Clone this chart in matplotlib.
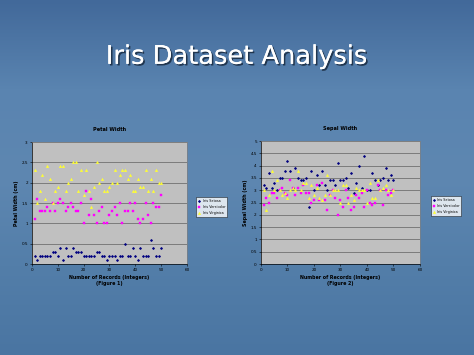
import numpy as np
import matplotlib
matplotlib.use("Agg")
import matplotlib.pyplot as plt
import matplotlib.patheffects as pe

# records 1..50 for each species
records = np.arange(1, 51)
species = ["Iris Setosa", "Iris Versicolor", "Iris Virginica"]

# petal width (cm), figure 1
petal_setosa = [0.2, 0.1, 0.2, 0.2, 0.2, 0.2, 0.2, 0.3, 0.3, 0.2,
                0.4, 0.1, 0.4, 0.2, 0.2, 0.4, 0.3, 0.3, 0.3, 0.2,
                0.2, 0.2, 0.2, 0.2, 0.3, 0.3, 0.2, 0.2, 0.1, 0.2,
                0.2, 0.2, 0.1, 0.2, 0.2, 0.5, 0.2, 0.2, 0.4, 0.2,
                0.1, 0.4, 0.2, 0.2, 0.2, 0.6, 0.4, 0.2, 0.2, 0.4]
petal_versicolor = [1.1, 1.6, 1.3, 1.3, 1.3, 1.4, 1.3, 1.5, 1.3, 1.5,
                    1.6, 1.5, 1.3, 1.4, 1.5, 1.4, 1.3, 1.3, 1.5, 1.0,
                    1.8, 1.2, 1.6, 1.2, 1.0, 1.3, 1.4, 1.0, 1.0, 1.2,
                    1.3, 1.4, 1.2, 1.5, 1.0, 1.3, 1.3, 1.5, 1.3, 1.5,
                    1.1, 1.0, 1.1, 1.5, 1.2, 1.0, 1.5, 1.4, 1.4, 1.7]
petal_virginica = [2.3, 1.5, 1.8, 2.2, 1.6, 2.4, 2.1, 1.5, 1.8, 1.9,
                   2.4, 2.4, 1.8, 2.0, 2.1, 2.5, 2.5, 1.8, 2.3, 1.7,
                   2.3, 1.8, 1.4, 1.9, 2.5, 2.0, 2.1, 1.8, 1.8, 1.9,
                   2.0, 2.3, 2.0, 2.2, 2.3, 2.3, 2.1, 2.2, 1.8, 1.8,
                   2.1, 1.9, 1.9, 2.3, 1.8, 2.1, 1.8, 2.3, 2.0, 2.0]

# sepal width (cm), figure 2
sepal_setosa = [3.2, 3.1, 3.7, 3.1, 3.3, 3.0, 3.5, 3.5, 3.8, 4.2,
                3.8, 3.1, 3.9, 3.5, 3.4, 3.4, 3.5, 2.3, 3.8, 3.0,
                3.6, 3.2, 3.8, 3.2, 3.0, 3.4, 3.4, 3.2, 4.1, 3.4,
                3.4, 3.5, 3.1, 3.7, 2.9, 3.3, 4.0, 3.1, 4.4, 3.0,
                3.0, 3.7, 3.4, 3.2, 3.4, 3.5, 3.9, 3.4, 3.6, 3.4]
sepal_versicolor = [2.4, 2.7, 2.5, 2.9, 2.9, 2.7, 3.0, 3.1, 2.9, 2.8,
                    3.4, 3.1, 2.8, 3.1, 2.9, 3.2, 2.9, 2.9, 2.5, 2.6,
                    3.2, 2.6, 3.3, 2.6, 2.2, 2.8, 3.0, 2.7, 2.0, 2.6,
                    2.3, 3.0, 2.7, 2.2, 2.3, 2.8, 2.7, 2.9, 2.3, 3.0,
                    2.5, 2.4, 2.5, 3.2, 3.0, 2.4, 3.0, 2.8, 2.9, 3.0]
sepal_virginica = [3.0, 2.2, 2.8, 3.8, 3.0, 3.4, 3.0, 2.8, 2.9, 2.7,
                   3.0, 3.1, 3.0, 3.8, 3.0, 3.3, 3.3, 2.7, 3.2, 2.8,
                   3.1, 2.7, 2.6, 2.8, 3.6, 2.8, 3.0, 3.0, 3.0, 2.5,
                   3.2, 3.2, 2.5, 2.8, 2.6, 3.1, 3.0, 3.0, 3.0, 2.5,
                   3.3, 2.7, 2.7, 3.4, 3.0, 3.1, 3.2, 3.0, 2.8, 3.0]

fig = plt.figure(figsize=(4.74, 3.55), dpi=100)

# slide background: blue vertical gradient
bg = fig.add_axes([0, 0, 1, 1], zorder=-10)
grad = np.linspace(0, 1, 256).reshape(-1, 1)
cmap = matplotlib.colors.LinearSegmentedColormap.from_list(
    "slide", ["#42699a", "#5a84b0", "#5e87b1", "#537ea9", "#4a75a2"])
bg.imshow(grad, aspect="auto", cmap=cmap, extent=[0, 1, 0, 1])
bg.axis("off")

fig.text(0.5, 0.84, "Iris Dataset Analysis", ha="center", va="center",
         fontsize=18.5, color="white", family="DejaVu Sans",
         path_effects=[pe.withSimplePatchShadow(offset=(1.2, -1.2),
                                                shadow_rgbFace="#1c2f45", alpha=0.9),
                       pe.Normal()])

styles = [dict(marker="D", color="#000080", ms=1.3),
          dict(marker="s", color="#ff00ff", ms=1.5),
          dict(marker="^", color="#ffff33", ms=1.8)]


def draw_chart(rect, series, ymax, ystep, title, ylabel, fig_no, legend_pos):
    ax = fig.add_axes(rect)
    ax.set_facecolor("#c0c0c0")
    for vals, name, st in zip(series, species, styles):
        ax.plot(records, vals, linestyle="none", marker=st["marker"],
                markersize=st["ms"], markerfacecolor=st["color"],
                markeredgecolor=st["color"], markeredgewidth=0.3, label=name)
    ax.set_xlim(0, 60)
    ax.set_ylim(0, ymax)
    ax.set_xticks(range(0, 61, 10))
    yt = np.arange(0, ymax + 1e-9, ystep)
    ax.set_yticks(yt)
    ax.set_yticklabels(["%g" % v for v in yt])
    ax.yaxis.grid(True, color="#707070", linewidth=0.6)
    ax.set_axisbelow(True)
    for s in ["top", "right"]:
        ax.spines[s].set_color("#808080")
        ax.spines[s].set_linewidth(0.5)
    for s in ["left", "bottom"]:
        ax.spines[s].set_color("black")
        ax.spines[s].set_linewidth(0.5)
    ax.tick_params(labelsize=3, length=1.5, width=0.4, pad=1.5, colors="black",
                   direction="out")
    ax.set_title(title, fontsize=3.6, fontweight="bold", pad=8)
    ax.set_ylabel(ylabel, fontsize=3.4, fontweight="bold", labelpad=2)
    ax.set_xlabel("Number of Records (Integers)\n(Figure %d)" % fig_no,
                  fontsize=3.4, fontweight="bold", labelpad=2, linespacing=1.2)
    leg = fig.legend(*ax.get_legend_handles_labels(), loc="upper left",
                     bbox_to_anchor=legend_pos, fontsize=2.4, frameon=True,
                     fancybox=False, borderpad=0.5, handlelength=0.8,
                     handletextpad=0.6, labelspacing=0.6, markerscale=1.0)
    leg.get_frame().set_edgecolor("black")
    leg.get_frame().set_linewidth(0.4)
    leg.get_frame().set_facecolor("white")
    return ax


draw_chart([0.0675, 0.2563, 0.327, 0.3437],
           [petal_setosa, petal_versicolor, petal_virginica],
           3, 0.5, "Petal Width", "Petal Width (cm)", 1, (0.411, 0.449))
draw_chart([0.5506, 0.2563, 0.3354, 0.3465],
           [sepal_setosa, sepal_versicolor, sepal_virginica],
           5, 0.5, "Sepal Width", "Sepal Width (cm)", 2, (0.905, 0.452))

fig.savefig("out.png", dpi=100)
